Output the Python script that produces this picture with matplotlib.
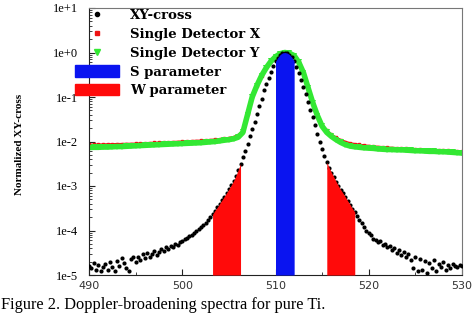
import numpy as np
import matplotlib
matplotlib.use("Agg")
from matplotlib import pyplot as plt, patches as pth
from matplotlib.lines import Line2D
from matplotlib.ticker import FixedLocator, FixedFormatter, LogLocator, NullFormatter

# energy axis (keV), channel step 0.25
energy = np.arange(490, 530.001, 0.25)

# XY-cross (coincidence) spectrum
xy_cross = [
    1.6e-5, 1.4e-5, 1.9e-5, 1.3e-5, 1.7e-5, 1.2e-5, 1.5e-5, 1.8e-5,
    1.3e-5, 2.0e-5, 1.5e-5, 1.2e-5, 2.1e-5, 1.6e-5, 2.4e-5, 1.9e-5,
    1.4e-5, 1.2e-5, 2.3e-5, 2.6e-5, 2.0e-5, 2.5e-5, 2.2e-5, 2.9e-5,
    2.4e-5, 3.2e-5, 2.6e-5, 3.0e-5, 3.5e-5, 2.8e-5, 3.3e-5, 3.8e-5,
    3.4e-5, 4.2e-5, 3.9e-5, 4.5e-5, 4.3e-5, 5.0e-5, 4.8e-5, 5.5e-5,
    5.8e-5, 6.3e-5, 6.8e-5, 7.4e-5, 7.9e-5, 8.8e-5, 9.6e-5, 1.1e-4,
    1.2e-4, 1.35e-4, 1.5e-4, 1.7e-4, 2.0e-4, 2.3e-4, 2.8e-4, 3.3e-4,
    4.0e-4, 4.8e-4, 5.8e-4, 7.0e-4, 8.5e-4, 1.05e-3, 1.3e-3, 1.7e-3,
    2.3e-3, 3.2e-3, 4.4e-3, 6.2e-3, 9.0e-3, 0.013, 0.019, 0.028,
    0.042, 0.062, 0.092, 0.14, 0.2, 0.27, 0.37, 0.5,
    0.63, 0.77, 0.9, 0.98, 1.0, 0.97, 0.9, 0.78,
    0.64, 0.48, 0.34, 0.24, 0.17, 0.115, 0.078, 0.052,
    0.035, 0.023, 0.015, 0.01, 6.8e-3, 4.8e-3, 3.4e-3, 2.6e-3,
    2.0e-3, 1.6e-3, 1.25e-3, 1.0e-3, 8.2e-4, 6.8e-4, 5.6e-4, 4.6e-4,
    3.8e-4, 3.1e-4, 2.6e-4, 2.1e-4, 1.75e-4, 1.45e-4, 1.2e-4, 1.0e-4,
    8.6e-5, 7.8e-5, 6.6e-5, 6.2e-5, 5.4e-5, 5.8e-5, 4.7e-5, 5.0e-5,
    4.2e-5, 4.6e-5, 3.6e-5, 4.0e-5, 3.2e-5, 3.7e-5, 2.8e-5, 3.3e-5,
    2.5e-5, 3.0e-5, 2.2e-5, 1.4e-5, 2.6e-5, 1.2e-5, 2.3e-5, 1.3e-5,
    2.1e-5, 1.1e-5, 1.9e-5, 1.4e-5, 2.2e-5, 1.2e-5, 1.8e-5, 1.5e-5,
    2.0e-5, 1.3e-5, 1.7e-5, 1.4e-5, 1.8e-5, 1.6e-5, 1.5e-5, 1.7e-5,
    1.6e-5,
]

# single detector spectra, step 0.5 keV (one row = 4 keV)
energy_single = np.arange(490, 530.001, 0.5)
det_y = [
    7.3e-3, 7.4e-3, 7.4e-3, 7.5e-3, 7.5e-3, 7.6e-3, 7.7e-3, 7.7e-3,   # 490
    7.8e-3, 7.9e-3, 8.0e-3, 8.1e-3, 8.2e-3, 8.3e-3, 8.4e-3, 8.5e-3,   # 494
    8.6e-3, 8.7e-3, 8.8e-3, 8.9e-3, 9.0e-3, 9.1e-3, 9.2e-3, 9.3e-3,   # 498
    9.4e-3, 9.6e-3, 9.8e-3, 1.0e-2, 1.03e-2, 1.07e-2, 1.1e-2, 1.15e-2,  # 502
    1.25e-2, 1.6e-2, 4.0e-2, 0.1, 0.18, 0.3, 0.45, 0.63,              # 506
    0.8, 0.94, 1.0, 0.96, 0.85, 0.6, 0.35, 0.16,                      # 510
    0.074, 0.038, 0.022, 0.016, 0.013, 0.011, 9.5e-3, 8.5e-3,         # 514
    7.9e-3, 7.6e-3, 7.4e-3, 7.2e-3, 7.1e-3, 7.0e-3, 6.8e-3, 6.7e-3,   # 518
    6.6e-3, 6.6e-3, 6.5e-3, 6.5e-3, 6.4e-3, 6.3e-3, 6.2e-3, 6.2e-3,   # 522
    6.1e-3, 6.0e-3, 6.0e-3, 5.9e-3, 5.9e-3, 5.8e-3, 5.7e-3, 5.6e-3,   # 526
    5.5e-3,                                                           # 530
]
det_x = [
    8.6e-3, 8.6e-3, 8.7e-3, 8.7e-3, 8.8e-3, 8.8e-3, 8.9e-3, 8.9e-3,   # 490
    9.0e-3, 9.0e-3, 9.1e-3, 9.2e-3, 9.3e-3, 9.4e-3, 9.5e-3, 9.6e-3,   # 494
    9.7e-3, 9.8e-3, 9.9e-3, 1.0e-2, 1.01e-2, 1.02e-2, 1.04e-2, 1.05e-2,  # 498
    1.06e-2, 1.08e-2, 1.1e-2, 1.12e-2, 1.15e-2, 1.18e-2, 1.22e-2, 1.28e-2,  # 502
    1.4e-2, 1.75e-2, 4.1e-2, 0.1, 0.18, 0.3, 0.45, 0.63,              # 506
    0.8, 0.94, 1.0, 0.96, 0.85, 0.6, 0.35, 0.16,                      # 510
    0.075, 0.04, 0.024, 0.018, 0.0145, 0.0125, 0.011, 0.01,           # 514
    9.3e-3, 8.9e-3, 8.6e-3, 8.3e-3, 8.1e-3, 7.9e-3, 7.7e-3, 7.6e-3,   # 518
    7.4e-3, 7.3e-3, 7.2e-3, 7.1e-3, 7.0e-3, 6.9e-3, 6.8e-3, 6.7e-3,   # 522
    6.6e-3, 6.5e-3, 6.5e-3, 6.4e-3, 6.3e-3, 6.3e-3, 6.2e-3, 6.1e-3,   # 526
    6.0e-3,                                                           # 530
]

s_window = (510.0, 512.0)
w_windows = [(503.25, 506.25), (515.5, 518.5)]

x_ticks = [490, 500, 510, 520, 530]
y_ticks = [1e-5, 1e-4, 1e-3, 1e-2, 1e-1, 1e0, 1e1]
y_ticklabels = ["1e-5", "1e-4", "1e-3", "1e-2", "1e-1", "1e+0", "1e+1"]

serif = "Liberation Serif"
green = "#33e833"

fig = plt.figure(figsize=(4.74, 3.22), dpi=100)
ax = fig.add_axes([89 / 474, 47 / 322, 373 / 474, 267 / 322])
ax.set_yscale("log")
ax.set_xlim(490, 530)
ax.set_ylim(1e-5, 1e1)

energy = np.asarray(energy)
xy_cross = np.asarray(xy_cross)

ax.plot(energy, xy_cross, "o", color="black", ms=3.0, mew=0, zorder=3)
ax.plot(energy_single, det_x, "-", color="#ee1111", lw=1.2, zorder=2,
        marker="s", ms=1.5)
ax.plot(energy_single, det_y, "-", color=green, lw=4, zorder=2.5,
        marker="v", ms=4.5, mew=0)

# S and W parameter regions
m = (energy >= s_window[0]) & (energy <= s_window[1])
ax.fill_between(energy[m], 1e-5, xy_cross[m], color="#0a14f0", lw=0, zorder=4)
for lo, hi in w_windows:
    m = (energy >= lo) & (energy <= hi)
    ax.fill_between(energy[m], 1e-5, xy_cross[m], color="#ff0a0a", lw=0, zorder=4)

ax.xaxis.set_major_locator(FixedLocator(x_ticks))
ax.xaxis.set_minor_locator(FixedLocator([495, 505, 515, 525]))
ax.set_xticklabels([str(t) for t in x_ticks], fontsize=8, color="#333333",
                   family="DejaVu Sans")
ax.yaxis.set_major_locator(FixedLocator(y_ticks))
ax.yaxis.set_major_formatter(FixedFormatter(y_ticklabels))
ax.yaxis.set_minor_locator(LogLocator(base=10, subs=np.arange(2, 10)))
ax.yaxis.set_minor_formatter(NullFormatter())
for lab in ax.get_yticklabels():
    lab.set_family(serif)
    lab.set_fontsize(9)
ax.tick_params(which="both", direction="in", color="#222222")
ax.tick_params(which="major", length=4, pad=8)
ax.tick_params(which="minor", length=2)
ax.tick_params(axis="x", pad=4)
for side in ["left", "bottom"]:
    ax.spines[side].set_color("#222222")
for side in ["top", "right"]:
    ax.spines[side].set_color("#777777")

fig.text(20 / 474, 0.55, "Normalized XY-cross", rotation=90, ha="center",
         va="center", family=serif, fontweight="bold", fontsize=8)
fig.text(0.002, 17 / 322, "Figure 2. Doppler-broadening spectra for pure Ti.",
         ha="left", va="center", family=serif, fontsize=11.8)

handles = [
    Line2D([], [], ls="none", marker="o", color="black", ms=3),
    Line2D([], [], ls="none", marker="s", color="#ee1111", ms=2.5),
    Line2D([], [], ls="none", marker="v", color=green, ms=5),
    pth.Patch(color="#0a14f0"),
    pth.Patch(color="#ff0a0a"),
]
labels = ["XY-cross", "Single Detector X", "Single Detector Y",
          "S parameter", "W parameter"]
fig.legend(handles, labels, loc="upper left", bbox_to_anchor=(75 / 474, 1 - 9 / 322),
           frameon=False, numpoints=1, handlelength=3.3, handleheight=0.95,
           handletextpad=0.85, labelspacing=0.42, borderpad=0, borderaxespad=0,
           prop={"family": "DejaVu Serif", "weight": "bold", "size": 9.5})

fig.savefig("out.png", dpi=100)
